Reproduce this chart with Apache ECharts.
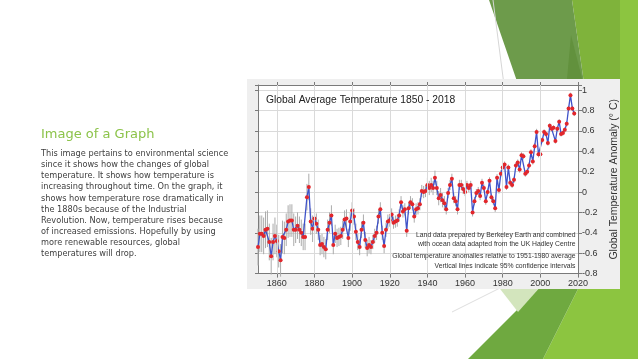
<!DOCTYPE html>
<html><head><meta charset="utf-8">
<script src="https://cdn.jsdelivr.net/npm/echarts@6/dist/echarts.min.js"></script>
<style>html,body{margin:0;padding:0;background:#fff}#c{width:638px;height:359px}</style>
</head><body><div id="c"></div>
<script>
const startYear = 1850;
const temps = [
  -0.54,-0.41,-0.41,-0.43,-0.37,-0.36,-0.49,-0.63,-0.49,-0.43,
  -0.48,-0.58,-0.67,-0.44,-0.45,-0.37,-0.29,-0.28,-0.28,-0.37,
  -0.37,-0.33,-0.37,-0.40,-0.44,-0.44,-0.05,0.05,-0.29,-0.36,
  -0.26,-0.31,-0.37,-0.52,-0.51,-0.54,-0.56,-0.37,-0.30,-0.23,
  -0.52,-0.41,-0.45,-0.44,-0.43,-0.37,-0.27,-0.26,-0.45,-0.29,
  -0.18,-0.24,-0.39,-0.49,-0.54,-0.37,-0.30,-0.47,-0.55,-0.52,
  -0.54,-0.49,-0.43,-0.40,-0.24,-0.17,-0.40,-0.53,-0.37,-0.29,
  -0.28,-0.22,-0.30,-0.29,-0.28,-0.23,-0.10,-0.19,-0.17,-0.38,
  -0.16,-0.10,-0.12,-0.24,-0.17,-0.16,-0.12,0.01,0.00,0.01,
  0.07,0.04,0.07,0.04,0.14,0.04,-0.06,-0.03,-0.08,-0.11,
  -0.17,-0.01,0.07,0.13,-0.06,-0.09,-0.17,0.07,0.07,0.03,
  0.00,0.07,0.04,0.07,-0.20,-0.09,-0.01,0.01,-0.04,0.09,
  0.04,-0.09,0.00,0.11,-0.05,-0.09,-0.16,0.14,0.02,0.18,
  0.24,0.27,0.05,0.24,0.09,0.07,0.12,0.26,0.29,0.22,
  0.36,0.35,0.18,0.20,0.26,0.39,0.30,0.45,0.59,0.37,
  0.37,0.51,0.59,0.57,0.48,0.65,0.62,0.63,0.50,0.62,
  0.69,0.57,0.58,0.61,0.67,0.82,0.95,0.82,0.77
];
// 95% confidence half-width per decade (1850s ... 2010s)
const ciByDecade = [0.18,0.16,0.13,0.10,0.09,0.08,0.07,0.06,0.06,0.07,0.05,0.04,0.035,0.03,0.03,0.025,0.025];
const xTickYears = [1860,1880,1900,1920,1940,1960,1980,2000,2020];
const chartTitle = 'Global Average Temperature 1850 - 2018';
const yName = 'Global Temperature Anomaly (° C)';
const notes = [
  'Land data prepared by Berkeley Earth and combined',
  'with ocean data adapted from the UK Hadley Centre',
  'Global temperature anomalies relative to 1951-1980 average',
  'Vertical lines indicate 95% confidence intervals'
];
const heading = 'Image of a Graph';
const bodyLines = [
  'This image pertains to environmental science',
  'since it shows how the changes of global',
  'temperature. It shows how temperature is',
  'increasing throughout time. On the graph, it',
  'shows how temperature rose dramatically in',
  'the 1880s because of the Industrial',
  'Revolution. Now, temperature rises because',
  'of increased emissions. Hopefully by using',
  'more renewable resources, global',
  'temperatures will drop.'
];

const lineData = temps.map((v, i) => [startYear + i, v]);
const errData = temps.map((v, i) => [startYear + i, v, ciByDecade[Math.floor(i / 10)]]);

const chart = echarts.init(document.getElementById('c'), null, {renderer: 'canvas'});
const FONT = '"Liberation Sans", Arial, sans-serif';
const noteY = [235, 244.5, 256, 266];

const graphics = [
  {type:'polygon', z:-5, silent:true, shape:{points:[[618,0],[638,0],[638,359],[543,359],[580,285],[618,85]]}, style:{fill:'#8cc540'}},
  {type:'polygon', z:-5, silent:true, shape:{points:[[572,0],[620,0],[620,90],[585,90]]}, style:{fill:'#7fb33b'}},
  {type:'polygon', z:-5, silent:true, shape:{points:[[489,0],[572,0],[585,90],[520,90]]}, style:{fill:'#6d9b4b'}},
  {type:'polygon', z:-5, silent:true, shape:{points:[[571,35],[585,90],[566,90]]}, style:{fill:'#62913d'}},
  {type:'polygon', z:-5, silent:true, shape:{points:[[542,285],[580,285],[543,359],[468,359]]}, style:{fill:'#6fa940'}},
  {type:'polygon', z:-5, silent:true, shape:{points:[[497,285],[542,285],[518,312]]}, style:{fill:'#d3e5bd'}},
  {type:'line', z:-5, silent:true, shape:{x1:493,y1:0,x2:504,y2:85}, style:{stroke:'#d6d6d6', lineWidth:1}},
  {type:'line', z:-5, silent:true, shape:{x1:452,y1:312,x2:500,y2:288}, style:{stroke:'#dedede', lineWidth:1}},
  {type:'rect', z:-1, silent:true, shape:{x:247, y:79, width:373, height:210}, style:{fill:'#efefef'}},
  {type:'text', z:10, style:{text:heading, x:41, y:135, font:'13px "DejaVu Sans", sans-serif', fill:'#8cc34a', textVerticalAlign:'middle'}}
];
bodyLines.forEach((t, i) => graphics.push({type:'text', z:10, style:{text:t, x:41, y:154 + i*11.1, font:'8.2px "DejaVu Sans", sans-serif', fill:'#404040', textVerticalAlign:'middle'}}));
notes.forEach((t, i) => graphics.push({type:'text', z:10, style:{text:t, x:575.5, y:noteY[i], font:'6.8px ' + FONT, fill:'#333', textAlign:'right', textVerticalAlign:'middle'}}));

const axisGray = '#7a7a7a';
chart.setOption({
  animation: false,
  backgroundColor: '#ffffff',
  title: {text: chartTitle, left: 266, top: 95, padding: 0,
    textStyle: {fontFamily: FONT, fontSize: 10.3, fontWeight: 'normal', color: '#222'}},
  grid: {left: 258, right: 60, top: 85, bottom: 85.4, show: true, backgroundColor: '#ffffff', borderWidth: 0},
  graphic: graphics,
  xAxis: [
    {type:'value', position:'bottom', min:1850, max:2020, interval:10,
     axisLine:{show:true, onZero:false, lineStyle:{color:axisGray}},
     axisTick:{show:true, customValues:xTickYears, length:4, lineStyle:{color:axisGray}},
     axisLabel:{customValues:xTickYears, margin:5, fontFamily:FONT, fontSize:9, color:'#333',
       formatter: v => (v % 20 === 0 ? String(v) : '')},
     splitLine:{show:false}},
    {type:'value', position:'top', min:1850, max:2020, interval:10,
     axisLine:{show:true, onZero:false, lineStyle:{color:axisGray}},
     axisTick:{show:true, customValues:xTickYears, length:3, lineStyle:{color:axisGray}},
     axisLabel:{show:false}, splitLine:{show:false}}
  ],
  yAxis: [
    {type:'value', position:'left', min:-0.8, max:1.05, interval:0.2,
     axisLine:{show:true, onZero:false, lineStyle:{color:axisGray}},
     axisTick:{show:true, length:3, lineStyle:{color:axisGray}},
     axisLabel:{show:false}, splitLine:{show:false}},
    {type:'value', position:'right', min:-0.8, max:1.05, interval:0.2,
     name: yName, nameLocation:'middle', nameRotate:90, nameGap:25,
     nameTextStyle:{fontFamily:FONT, fontSize:10.5, color:'#333'},
     axisLine:{show:true, onZero:false, lineStyle:{color:axisGray}},
     axisTick:{show:true, length:4, lineStyle:{color:axisGray}},
     axisLabel:{margin:4, fontFamily:FONT, fontSize:9, color:'#333',
       formatter: v => (Math.abs(v - 1.05) < 1e-6 ? '' : String(+v.toFixed(1)))},
     splitLine:{show:true, lineStyle:{color:'#dadada', width:1}}}
  ],
  series: [
    {type:'line', xAxisIndex:0, yAxisIndex:1, data:[], z:0, silent:true,
     markLine:{silent:true, symbol:'none', label:{show:false},
       lineStyle:{color:'#dadada', type:'solid', width:1},
       data: xTickYears.filter(y => y < 2020).map(y => ({xAxis: y}))}},
    {type:'custom', xAxisIndex:0, yAxisIndex:1, z:1, silent:true, data: errData,
     encode:{x:0, y:1},
     renderItem: (params, api) => {
       const x = api.value(0), v = api.value(1), c = api.value(2);
       const p1 = api.coord([x, v - c]), p2 = api.coord([x, v + c]);
       return {type:'line', shape:{x1:p1[0], y1:p1[1], x2:p2[0], y2:p2[1]}, style:{stroke:'#ababab', lineWidth:1}};
     }},
    {type:'line', xAxisIndex:0, yAxisIndex:1, z:3, data: lineData,
     symbol:'circle', symbolSize:4, showSymbol:true, showAllSymbol:true,
     lineStyle:{color:'#3f53c9', width:1.3},
     itemStyle:{color:'#e2262b'}}
  ]
});
</script>
</body></html>
